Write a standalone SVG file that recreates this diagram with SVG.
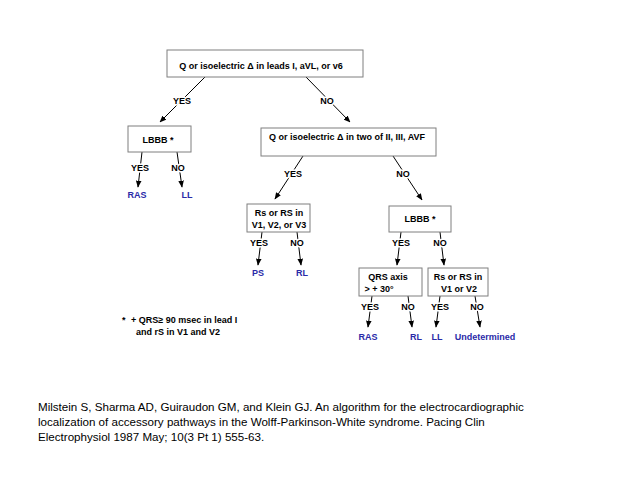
<svg xmlns="http://www.w3.org/2000/svg" width="638" height="479" viewBox="0 0 638 479">
<defs>
<marker id="ah" viewBox="0 0 10 10" refX="9" refY="5" markerWidth="7" markerHeight="7" orient="auto" markerUnits="userSpaceOnUse">
<path d="M0,1 L10,5 L0,9 z" fill="#000"/>
</marker>
</defs>
<style>
.box{fill:#fff;stroke:#7f7f7f;stroke-width:1}
.t{font-family:"Liberation Sans",Arial,sans-serif;font-weight:bold;font-size:9px;fill:#000;text-anchor:middle}
.lbl{font-family:"Liberation Sans",Arial,sans-serif;font-weight:bold;font-size:9px;fill:#000;text-anchor:middle;stroke:#fff;stroke-width:3px;paint-order:stroke;stroke-linejoin:round}
.res{font-family:"Liberation Sans",Arial,sans-serif;font-weight:bold;font-size:9px;fill:#2a2aa8;text-anchor:middle}
.c{stroke:#000;stroke-width:1;fill:none;marker-end:url(#ah)}
.cite{font-family:"Liberation Sans",Arial,sans-serif;font-size:11.6px;fill:#000}
.fn{font-family:"Liberation Sans",Arial,sans-serif;font-weight:bold;font-size:9px;fill:#000}
</style>
<rect width="638" height="479" fill="#fff"/>
<g id="connectors">
<line class="c" x1="205" y1="77" x2="160" y2="122"/>
<line class="c" x1="306" y1="77" x2="350" y2="122"/>
<line class="c" x1="142" y1="152" x2="138" y2="187"/>
<line class="c" x1="177" y1="152" x2="182" y2="187"/>
<line class="c" x1="303" y1="156" x2="275" y2="199"/>
<line class="c" x1="393" y1="156" x2="422" y2="200"/>
<line class="c" x1="262" y1="232" x2="258" y2="265"/>
<line class="c" x1="297" y1="232" x2="301" y2="265"/>
<line class="c" x1="401" y1="232" x2="397" y2="265"/>
<line class="c" x1="440" y1="232" x2="444" y2="265"/>
<line class="c" x1="372" y1="296" x2="368" y2="327"/>
<line class="c" x1="408" y1="296" x2="412" y2="327"/>
<line class="c" x1="440" y1="296" x2="436" y2="327"/>
<line class="c" x1="475" y1="296" x2="480" y2="327"/>
<text class="lbl" x="182" y="104">YES</text>
<text class="lbl" x="327" y="104">NO</text>
<text class="lbl" x="140" y="171">YES</text>
<text class="lbl" x="178" y="171">NO</text>
<text class="lbl" x="293" y="177">YES</text>
<text class="lbl" x="403" y="177">NO</text>
<text class="lbl" x="259" y="246">YES</text>
<text class="lbl" x="297" y="246">NO</text>
<text class="lbl" x="401" y="246">YES</text>
<text class="lbl" x="440" y="246">NO</text>
<text class="lbl" x="370" y="310">YES</text>
<text class="lbl" x="408" y="310">NO</text>
<text class="lbl" x="440" y="310">YES</text>
<text class="lbl" x="477" y="310">NO</text>
</g>
<g id="n1">
<rect class="box" x="167" y="50" width="196" height="27"/>
<text class="t" x="261" y="69">Q or isoelectric Δ in leads I, aVL, or v6</text>
</g>
<g id="n2">
<rect class="box" x="128" y="126" width="63" height="26"/>
<text class="t" x="158" y="143">LBBB *</text>
</g>
<g id="n3">
<rect class="box" x="261" y="128" width="175" height="28"/>
<text class="t" x="347" y="140">Q or isoelectric Δ in two of II, III, AVF</text>
</g>
<g id="n4">
<rect class="box" x="247" y="204" width="63" height="28"/>
<text class="t" x="279" y="216">Rs or RS in</text>
<text class="t" x="279" y="228">V1, V2, or V3</text>
</g>
<g id="n5">
<rect class="box" x="389" y="206" width="62" height="26"/>
<text class="t" x="420" y="222">LBBB *</text>
</g>
<g id="n6">
<rect class="box" x="359" y="268" width="63" height="28"/>
<text class="t" x="388" y="280">QRS axis</text>
<text class="t" x="379" y="292">&gt; + 30°</text>
</g>
<g id="n7">
<rect class="box" x="428" y="268" width="60" height="28"/>
<text class="t" x="458" y="280">Rs or RS in</text>
<text class="t" x="459" y="292">V1 or V2</text>
</g>
<g id="results">
<text class="res" x="137" y="198">RAS</text>
<text class="res" x="187" y="198">LL</text>
<text class="res" x="258" y="276">PS</text>
<text class="res" x="302" y="276">RL</text>
<text class="res" x="368" y="340">RAS</text>
<text class="res" x="416" y="340">RL</text>
<text class="res" x="437" y="340">LL</text>
<text class="res" x="485" y="340">Undetermined</text>
</g>
<g id="footnote">
<text class="fn" x="122" y="323">*</text>
<text class="fn" x="131" y="323">+ QRS≥ 90 msec in lead I</text>
<text class="fn" x="136" y="335">and rS in V1 and V2</text>
</g>
<g id="citation">
<text class="cite" x="38" y="411">Milstein S, Sharma AD, Guiraudon GM, and Klein GJ. An algorithm for the electrocardiographic</text>
<text class="cite" x="38" y="426">localization of accessory pathways in the Wolff-Parkinson-White syndrome. Pacing Clin</text>
<text class="cite" x="38" y="441">Electrophysiol 1987 May; 10(3 Pt 1) 555-63.</text>
</g>
</svg>
